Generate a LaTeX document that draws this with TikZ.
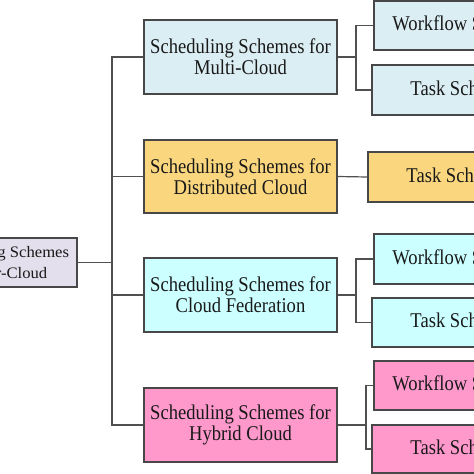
\documentclass[tikz,border=0pt]{standalone}
\usepackage{fontspec}
\setmainfont{Liberation Serif}
\newfontfamily\tnr{Liberation Serif}[FakeStretch=0.885]
\newfontfamily\tnrroot{Liberation Serif}[FakeStretch=1.04]
\definecolor{boxborder}{HTML}{474747}
\definecolor{linkgray}{HTML}{505050}
\definecolor{rootfill}{HTML}{E4DFEC}
\definecolor{multifill}{HTML}{DBEEF3}
\definecolor{distfill}{HTML}{FAD77E}
\definecolor{fedfill}{HTML}{CCFFFF}
\definecolor{hybfill}{HTML}{FF99CC}
\begin{document}
\begin{tikzpicture}[x=1pt,y=-1pt,
  box/.style={draw=boxborder, line width=1.1pt, align=center, inner sep=0pt,
    font=\tnr\fontsize{21}{20.6}\selectfont, text=black!90},
  midbox/.style={box, minimum width=193pt, minimum height=74pt},
  leafbox/.style={box, minimum width=200pt, minimum height=49pt},
  link/.style={draw=linkgray, line width=1.2pt}]
\useasboundingbox (0,0) rectangle (474,474);
\clip (0,0) rectangle (474,474);
\fill[white] (0,0) rectangle (474,474);
% root
\node[box, fill=rootfill, minimum width=154pt, minimum height=49pt,
  font=\tnrroot\fontsize{16}{20.7}\selectfont] (root) at (0,262.5) {Scheduling Schemes\\in Inter-Cloud};
% second level
\node[midbox, fill=multifill] (mc) at (240.5,57) {Scheduling Schemes for\\Multi-Cloud};
\node[midbox, fill=distfill, minimum height=73pt] (dc) at (240.5,176.5) {Scheduling Schemes for\\Distributed Cloud};
\node[midbox, fill=fedfill] (cf) at (240.5,295) {Scheduling Schemes for\\Cloud Federation};
\node[midbox, fill=hybfill] (hc) at (240.5,425) {Scheduling Schemes for\\Hybrid Cloud};
% leaves
\node[leafbox, fill=multifill] (mcw) at (474,25.5) {Workflow Scheduling};
\node[leafbox, fill=multifill, minimum height=50pt] (mct) at (472,90) {Task Scheduling};
\node[leafbox, fill=distfill, minimum height=50pt] (dct) at (468,177) {Task Scheduling};
\node[leafbox, fill=fedfill, minimum height=50pt] (cfw) at (474,259) {Workflow Scheduling};
\node[leafbox, fill=fedfill] (cft) at (472,322.5) {Task Scheduling};
\node[leafbox, fill=hybfill] (hcw) at (474,385.5) {Workflow Scheduling};
\node[leafbox, fill=hybfill, minimum height=48pt] (hct) at (472,449) {Task Scheduling};
% junctions
\coordinate (j0) at (112,262.5);
\coordinate (jm) at (356,57);
\coordinate (jf) at (356,295);
\coordinate (jh) at (366,425);
% connectors
\foreach \c in {mc,dc,cf,hc}{
  \draw[link] (root.east) -- (j0) |- (\c.west);
}
\foreach \c in {mcw,mct}{
  \draw[link] (mc.east) -- (jm) |- (\c.west);
}
\draw[link] (dc.east) -- (dct.west);
\foreach \c in {cfw,cft}{
  \draw[link] (cf.east) -- (jf) |- (\c.west);
}
\foreach \c in {hcw,hct}{
  \draw[link] (hc.east) -- (jh) |- (\c.west);
}
\end{tikzpicture}
\end{document}
